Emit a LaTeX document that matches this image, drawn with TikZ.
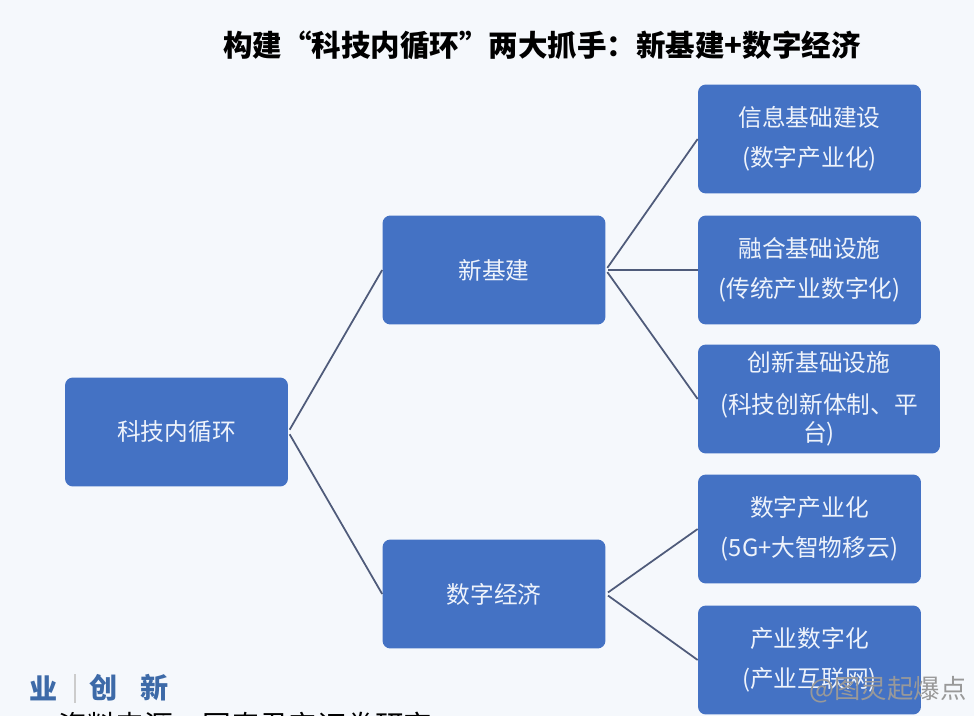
\documentclass[tikz,border=0pt]{standalone}
\usepackage{fontspec}
\setmainfont{Noto Sans CJK SC}
\usetikzlibrary{positioning}
\definecolor{kjBlue}{HTML}{4472C4}
\definecolor{kjLine}{HTML}{4F5B7A}
\definecolor{kjText}{HTML}{EEF3FB}
\definecolor{kjBack}{HTML}{F5F8FC}
\definecolor{kjMark}{HTML}{3D6AA8}
\tikzset{
  box/.style={rounded corners=4.5pt, fill=kjBlue, text=kjText,
              minimum width=4.46cm, minimum height=2.18cm, align=center,
              inner sep=2pt, font=\fontsize{13.5pt}{22.8pt}\selectfont},
  link/.style={draw=kjLine, line width=1pt, shorten <=1.5pt},
  ttl/.style={font=\fontsize{16.8pt}{20pt}\selectfont\bfseries, text=black},
  brand/.style={font=\fontsize{16pt}{18pt}\selectfont\bfseries, text=kjMark},
  src/.style={font=\fontsize{16.4pt}{18pt}\selectfont, text=black, anchor=west},
  wmark/.style={font=\fontsize{15pt}{17pt}\selectfont, text=black!40},
}
\begin{document}
\begin{tikzpicture}[x=0.02cm, y=-0.02cm]
  \useasboundingbox (0,0) rectangle (974,716);
  \clip (0,0) rectangle (974,716);
  \fill[kjBack] (0,0) rectangle (974,716);
  \node[ttl] (title) at (542,45) {构建“科技内循环”两大抓手：新基建+数字经济};
  % tree
  \node[box] (root) at (176.5,432) {科技内循环};
  \node[box] (xjj) at (494,270) {新基建};
  \node[box] (szjj) at (494,594) {数字经济};
  \node[box] (xx) at (809.5,139) {信息基础建设\\(数字产业化)};
  \node[box] (rh) at (809.5,270) {融合基础设施\\(传统产业数字化)};
  \node[box, minimum width=4.84cm, font=\fontsize{13.5pt}{16pt}\selectfont]
       (cx) at (819,399) {创新基础设施\\[8pt](科技创新体制、平\\台)};
  \node[box] (szcy) at (809.5,529) {数字产业化\\(5G+大智物移云)};
  \node[box] (cysz) at (809.5,660) {产业数字化\\(产业互联网)};
  \foreach \c in {xjj,szjj}
    \draw[link] (root.east) -- (\c.west);
  \foreach \c in {xx,rh,cx}
    \draw[link] (xjj.east) -- (\c.west);
  \foreach \c in {szcy,cysz}
    \draw[link] (szjj.east) -- (\c.west);
  % footer bits
  \node[brand] (ye) at (44,688) {业};
  \node[brand] (chuang) at (104,688) {创};
  \node[brand] (xin) at (155,688) {新};
  \draw[black!20, line width=0.6pt] (75,674) -- (75,703);
  \node[src] (source) at (52,726) {资料来源：国泰君安证券研究};
  \node[wmark] (wm) at (888,690) {@图灵起爆点};
\end{tikzpicture}
\end{document}
